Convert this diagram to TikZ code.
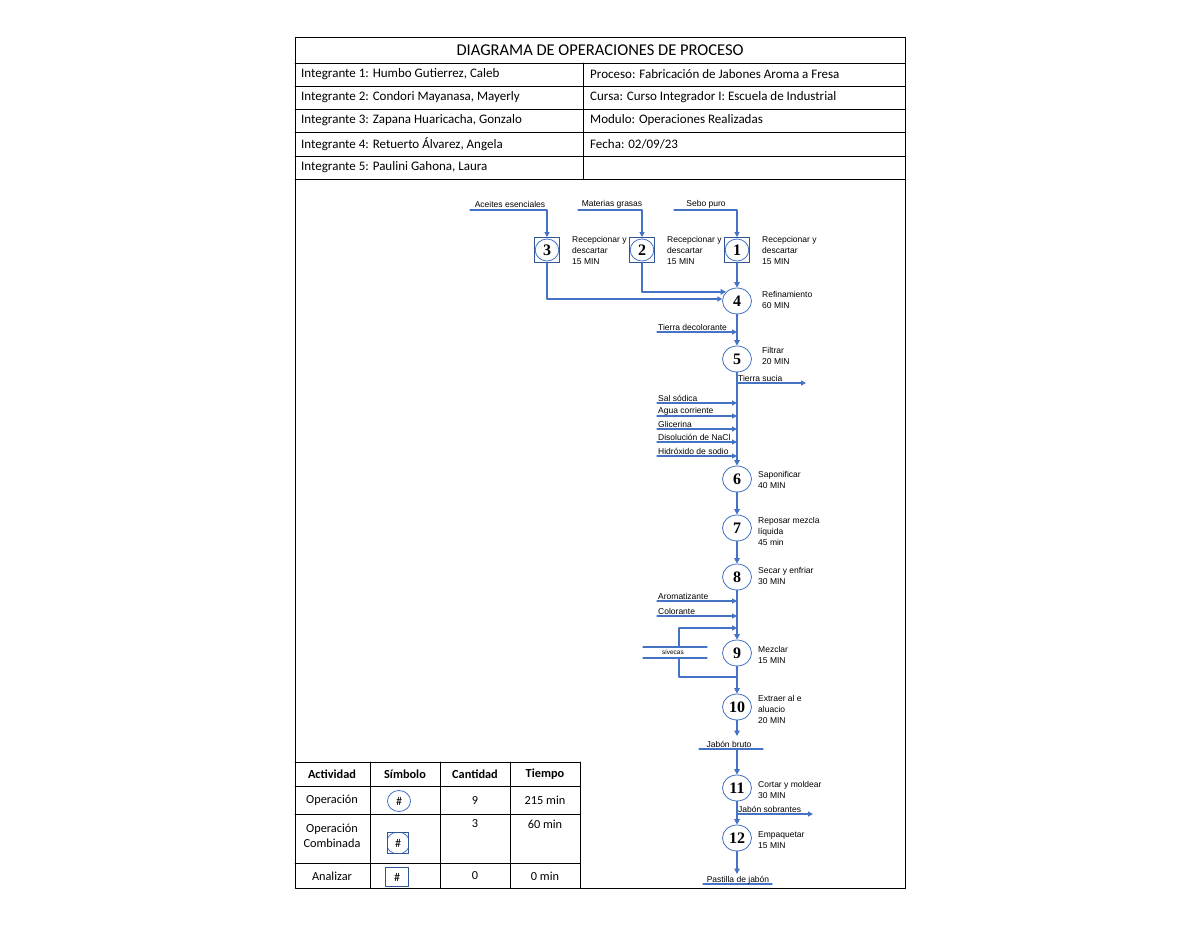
\documentclass[tikz,border=0pt]{standalone}
\usepackage{fontspec}
\setmainfont{Carlito}
\newfontfamily\arialfont{Liberation Sans}
\newfontfamily\numfont{Liberation Serif}
\usepackage{tikz}
\usetikzlibrary{arrows.meta,shapes.geometric}
\definecolor{flowblue}{RGB}{68,114,196}
\definecolor{boxblue}{RGB}{47,85,151}
\newcommand{\rowfont}{\fontsize{13}{15}\selectfont}
\newcommand{\tabfont}{\fontsize{12.3}{14.5}\selectfont}

\begin{document}
\begin{tikzpicture}[x=1pt, y=-1pt, line join=round, line cap=round,
    op/.style={ellipse, draw=flowblue, line width=0.8pt, fill=white, minimum width=29pt,
      minimum height=26pt, inner sep=0pt, font=\numfont\bfseries\fontsize{16}{16}\selectfont},
    comb/.style={rectangle, draw=boxblue, line width=0.8pt, fill=white, minimum size=25pt,
      inner sep=0pt, font=\numfont\bfseries\fontsize{16}{16}\selectfont,
      path picture={\draw[flowblue, line width=0.8pt] (path picture bounding box.center)
        ellipse [x radius=11.8pt, y radius=11pt];}},
    lbl/.style={font=\arialfont\fontsize{8.5}{11}\selectfont, align=left, anchor=north west, inner sep=0pt},
    inlbl/.style={font=\arialfont\fontsize{8.5}{10}\selectfont, anchor=south west, inner sep=1pt},
    flowline/.style={flowblue, line width=1.2pt},
    feed/.style={flowline, -{Triangle[length=5pt, width=5pt]}},
    main/.style={flowblue, line width=1.8pt, -{Triangle[length=5.5pt, width=5.5pt]}},
    cell/.style={anchor=west, inner sep=0pt, font=\rowfont},
    tcell/.style={inner sep=0pt, font=\tabfont, align=center}]
  \useasboundingbox (0,0) rectangle (1200,927);
  % frame and header
  \draw[line width=0.8pt] (295,37) rectangle (905,888);
  \foreach \y in {63,86,109,132,156,179}
    \draw[line width=0.8pt] (295,\y) -- (905,\y);
  \draw[line width=0.8pt] (583,63) -- (583,179);
  \node[inner sep=0pt, font=\fontsize{16.5}{18}\selectfont] (title) at (600,50) {DIAGRAMA DE OPERACIONES DE PROCESO};
  \node[cell] (int1) at (301,74.5) {Integrante 1: Humbo Gutierrez, Caleb};
  \node[cell] (int2) at (301,97.5) {Integrante 2: Condori Mayanasa, Mayerly};
  \node[cell] (int3) at (301,120.5) {Integrante 3: Zapana Huaricacha, Gonzalo};
  \node[cell] (int4) at (301,144) {Integrante 4: Retuerto Álvarez, Angela};
  \node[cell] (int5) at (301,167.5) {Integrante 5: Paulini Gahona, Laura};
  \node[cell] (proceso) at (590,74.5) {Proceso: Fabricación de Jabones Aroma a Fresa};
  \node[cell] (cursa) at (590,97.5) {Cursa: Curso Integrador I: Escuela de Industrial};
  \node[cell] (modulo) at (590,120.5) {Modulo: Operaciones Realizadas};
  \node[cell] (fecha) at (590,144) {Fecha: 02/09/23};

  % operations
  \node[comb] (n3) at (547,250) {3};
  \node[comb] (n2) at (642,250) {2};
  \node[comb] (n1) at (737,250) {1};
  \node[op] (n4) at (737,301) {4};
  \node[op] (n5) at (737,359) {5};
  \node[op] (n6) at (737,479) {6};
  \node[op] (n7) at (737,528) {7};
  \node[op] (n8) at (737,577) {8};
  \node[op] (n9) at (737,653) {9};
  \node[op] (n10) at (737,707) {10};
  \node[op] (n11) at (737,788) {11};
  \node[op] (n12) at (737,838) {12};

  \node[lbl] (t3) at (572,236) {Recepcionar y\\descartar\\15 MIN};
  \node[lbl] (t2) at (667,236) {Recepcionar y\\descartar\\15 MIN};
  \node[lbl] (t1) at (762,236) {Recepcionar y\\descartar\\15 MIN};
  \node[lbl] (t4) at (762,291) {Refinamiento\\60 MIN};
  \node[lbl] (t5) at (762,347) {Filtrar\\20 MIN};
  \node[lbl] (t6) at (758,471) {Saponificar\\40 MIN};
  \node[lbl] (t7) at (758,517) {Reposar mezcla\\líquida\\45 min};
  \node[lbl] (t8) at (758,567) {Secar y enfriar\\30 MIN};
  \node[lbl] (t9) at (758,646) {Mezclar\\15 MIN};
  \node[lbl] (t10) at (758,695) {Extraer al e\\aluacio\\20 MIN};
  \node[lbl] (t11) at (758,781) {Cortar y moldear\\30 MIN};
  \node[lbl] (t12) at (758,831) {Empaquetar\\15 MIN};

  % raw materials on top
  \coordinate (aceites) at (470,210);
  \coordinate (grasas) at (578,210);
  \coordinate (sebo) at (674,210);
  \node[inlbl, anchor=south] (laceites) at (510,209) {Aceites esenciales};
  \node[inlbl, anchor=south] (lgrasas) at (612,209) {Materias grasas};
  \node[inlbl, anchor=south] (lsebo) at (706,209) {Sebo puro};
  \draw[feed] (aceites) -| (n3);
  \draw[feed] (grasas) -| (n2);
  \draw[feed] (sebo) -| (n1);
  \draw[feed] (n3) |- (n4.172);
  \draw[main] (n2) |- (n4.140);

  % main line
  \draw[main] (n1) -- (n4);
  \draw[main] (n4) -- (n5);
  \draw[main] (n5) -- (n6);
  \draw[main] (n6) -- (n7);
  \draw[main] (n7) -- (n8);
  \draw[main] (n8) -- (n9);
  \draw[main] (n9) -- (n10);

  % inputs and outputs
  \foreach \nm/\y/\txt/\tgt in {tierra/332/Tierra decolorante/n5, sal/403/Sal sódica/n6,
      agua/416/Agua corriente/n6, glicerina/429/Glicerina/n6, nacl/442/Disolución de NaCl/n6,
      hidroxido/456/Hidróxido de sodio/n6, aroma/601/Aromatizante/n9, color/616/Colorante/n9}{
    \coordinate (\nm) at (657,\y);
    \node[inlbl] (l\nm) at (\nm) {\txt};
    \draw[feed] (\nm) -- (\nm -| \tgt);
  }
  \coordinate (sucia) at (806,383);
  \node[inlbl] (lsucia) at (sucia -| n5) {Tierra sucia};
  \draw[feed] (sucia -| n5) -- (sucia);

  % return loop at 9
  \coordinate (loopa) at (679,628);
  \coordinate (loopb) at (679,677);
  \coordinate (sivw) at (643,647);
  \coordinate (sive) at (707,647);
  \coordinate (sivlw) at (643,658);
  \coordinate (sivle) at (707,658);
  \draw[flowline] (sivw) -- (sive);
  \draw[flowline] (sivlw) -- (sivle);
  \node[font=\arialfont\fontsize{6.5}{7}\selectfont, inner sep=0pt] (siv) at (673,652.5) {sivecas};
  \draw[flowline] (loopa |- sivw) -- (loopa);
  \draw[feed] (loopa) -- (loopa -| n9);
  \draw[flowline] (loopb |- sivlw) -- (loopb) -- (loopb -| n9);

  % product end
  \coordinate (brutot) at (737,736);
  \coordinate (bruto) at (737,749);
  \coordinate (brutow) at (699,749);
  \coordinate (brutoe) at (763,749);
  \draw[main] (n10) -- (brutot);
  \draw[flowline] (brutow) -- (brutoe);
  \node[inlbl, anchor=south] (lbruto) at (729,749) {Jabón bruto};
  \draw[main] (bruto) -- (n11);
  \draw[main] (n11) -- (n12);
  \coordinate (sobra) at (813,814);
  \node[inlbl] (lsobra) at (sobra -| n11) {Jabón sobrantes};
  \draw[feed] (sobra -| n11) -- (sobra);
  \coordinate (pastillat) at (737,874);
  \coordinate (pastillaw) at (703,884);
  \coordinate (pastillae) at (772,884);
  \draw[main] (n12) -- (pastillat);
  \draw[flowline] (pastillaw) -- (pastillae);
  \node[inlbl, anchor=south] (lpastilla) at (738,885) {Pastilla de jabón};

  % summary table
  \draw[line width=0.8pt] (295,762) -- (580,762);
  \foreach \y in {786,814,863}
    \draw[line width=0.8pt] (295,\y) -- (580,\y);
  \foreach \x in {370,440,510,580}
    \draw[line width=0.8pt] (\x,762) -- (\x,888);
  \node[tcell, font=\tabfont\bfseries] (hact) at (332,774) {Actividad};
  \node[tcell, font=\tabfont\bfseries] (hsim) at (405,774) {Símbolo};
  \node[tcell, font=\tabfont\bfseries] (hcan) at (475,774) {Cantidad};
  \node[tcell, font=\tabfont\bfseries] (htie) at (545,774) {Tiempo};
  \node[tcell] (aop) at (332,800) {Operación};
  \node[tcell] (aco) at (332,836) {Operación\\Combinada};
  \node[tcell] (aan) at (332,876) {Analizar};
  \node[op, minimum width=23pt, minimum height=21pt, font=\fontsize{12}{12}\selectfont] (sop) at (399,801) {\#};
  \node[comb, minimum size=21pt, font=\fontsize{12}{12}\selectfont] (sco) at (398,843) {\#};
  \node[rectangle, draw=boxblue, line width=0.8pt, minimum width=23pt, minimum height=19pt, inner sep=0pt, font=\fontsize{12}{12}\selectfont] (san) at (397,877) {\#};
  \node[tcell] (cop) at (475,800) {9};
  \node[tcell] (cco) at (475,824) {3};
  \node[tcell] (can) at (475,876) {0};
  \node[tcell] (top) at (545,800) {215 min};
  \node[tcell] (tco) at (545,824) {60 min};
  \node[tcell] (tan) at (545,876) {0 min};
\end{tikzpicture}
\end{document}
